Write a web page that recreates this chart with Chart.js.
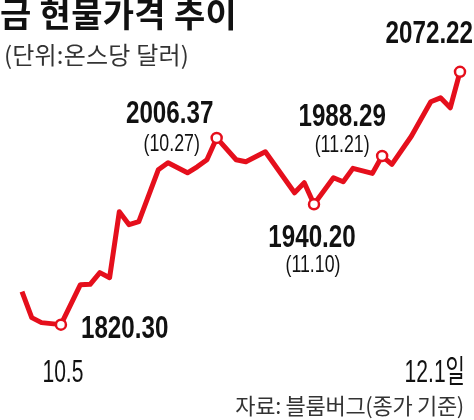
<!DOCTYPE html>
<html>
<head>
<meta charset="utf-8">
<script src="https://cdn.jsdelivr.net/npm/chart.js"></script>
<style>
  body { margin: 0; background: #fff; }
  #wrap { position: relative; width: 474px; height: 420px; overflow: hidden; }
  canvas { position: absolute; left: 0; top: 0; }
  .title { position: absolute; left: 0; top: -7px; font: bold 34px 'Noto Sans CJK KR'; letter-spacing: 0.3px; color: #111; line-height: 1.2; }
  .unit { position: absolute; left: 4px; top: 40px; font: 24px 'Noto Sans CJK KR'; color: #333; line-height: 1.2; letter-spacing: 0.2px; }
  .source { position: absolute; right: 10px; top: 391px; font: 22px 'Noto Sans CJK KR'; color: #333; line-height: 1.2; letter-spacing: -0.3px; }
</style>
</head>
<body>
<div id="wrap">
  <canvas id="chart" width="474" height="420"></canvas>
  <div class="title">금 현물가격 추이</div>
  <div class="unit">(단위:온스당 달러)</div>
  <div class="source">자료: 블룸버그(종가 기준)</div>
</div>
<script>
// trading days shown on the chart
const dates = ['9.29','10.2','10.3','10.4','10.5','10.6','10.9','10.10','10.11','10.12','10.13',
  '10.16','10.17','10.18','10.19','10.20','10.23','10.24','10.25','10.26','10.27','10.30','10.31',
  '11.1','11.2','11.3','11.6','11.7','11.8','11.9','11.10','11.13','11.14','11.15','11.16','11.17',
  '11.20','11.21','11.22','11.23','11.24','11.27','11.28','11.29','11.30','12.1'];

// gold spot close, USD per ounce (null = no visible turn in the line)
const prices = [1853.2, 1827.3, 1822.3, 1821.3, 1820.30, null, 1860.1, 1860.5, 1872.1, 1867.1, 1932.8,
  1919.9, 1922.9, null, 1974.6, 1981.6, null, 1971.6, 1977.6, 1984.6, 2006.37, null, 1984.6,
  1982.6, null, 1992.6, null, null, 1951.7, 1961.7, 1940.20, null, 1966.7, 1962.7, 1976.0, null,
  1971.0, 1988.29, 1980.0, null, 2008.0, null, 2042.4, 2046.3, 2036.4, 2072.22];

// highlighted points
const markIdx = [4, 20, 30, 37, 45];
const markDates = ['', '(10.27)', '(11.10)', '(11.21)', ''];

// x axis end labels
const axisLabels = ['10.5', '12.1일'];

const RED = '#e50f1c';

// label placement relative to each marker
const notePos = {
  4:  { dx: 20,  dy: 13,  align: 'left' },
  20: { dx: -47, dy: -15, align: 'center', subDx: -45, subDy: 13 },
  30: { dx: -2,  dy: 43,  align: 'center', subDx: -1,  subDy: 68 },
  37: { dx: -40, dy: -30, align: 'center', subDx: -40, subDy: -4 },
  45: { dx: 13,  dy: -29, align: 'right' }
};

function narrowText(ctx, text, x, y, font, sx, align) {
  ctx.save();
  ctx.translate(x, y);
  ctx.scale(sx, 1);
  ctx.font = font;
  ctx.textAlign = align;
  ctx.textBaseline = 'alphabetic';
  ctx.fillStyle = '#111';
  ctx.fillText(text, 0, 0);
  ctx.restore();
}

const labelPlugin = {
  id: 'labels',
  afterDatasetsDraw(chart) {
    const ctx = chart.ctx;
    const meta = chart.getDatasetMeta(0);
    markIdx.forEach((i, k) => {
      const pt = meta.data[i];
      const p = notePos[i];
      narrowText(ctx, prices[i].toFixed(2), pt.x + p.dx, pt.y + p.dy,
        'bold 31px "Liberation Sans", Arial, sans-serif', 0.78, p.align);
      if (markDates[k]) {
        narrowText(ctx, markDates[k], pt.x + p.subDx, pt.y + p.subDy,
          '24px "Liberation Sans", Arial, sans-serif', 0.74, 'center');
      }
    });
    const area = chart.chartArea;
    const first = meta.data[markIdx[0]];
    const last = meta.data[markIdx[markIdx.length - 1]];
    narrowText(ctx, axisLabels[0], first.x + 2, area.bottom + 37,
      '31px "Liberation Sans", "Noto Sans CJK KR", sans-serif', 0.68, 'center');
    narrowText(ctx, axisLabels[1], last.x + 5, area.bottom + 37,
      '31px "Liberation Sans", "Noto Sans CJK KR", sans-serif', 0.68, 'right');
  }
};

new Chart(document.getElementById('chart'), {
  type: 'line',
  data: {
    labels: dates,
    datasets: [{
      data: prices,
      borderColor: RED,
      borderWidth: 5,
      borderJoinStyle: 'round',
      borderCapStyle: 'butt',
      tension: 0,
      spanGaps: true,
      clip: false,
      pointRadius: ctx => markIdx.includes(ctx.dataIndex) ? 5 : 0,
      pointHoverRadius: 0,
      pointBackgroundColor: '#fff',
      pointBorderColor: RED,
      pointBorderWidth: 2.5
    }]
  },
  options: {
    responsive: false,
    animation: false,
    layout: { padding: { left: 22, right: 14, top: 64, bottom: 75 } },
    plugins: { legend: { display: false }, tooltip: { enabled: false } },
    scales: {
      x: { display: false, offset: false },
      y: { display: false, min: 1800, max: 2080 }
    }
  },
  plugins: [labelPlugin]
});
</script>
</body>
</html>
